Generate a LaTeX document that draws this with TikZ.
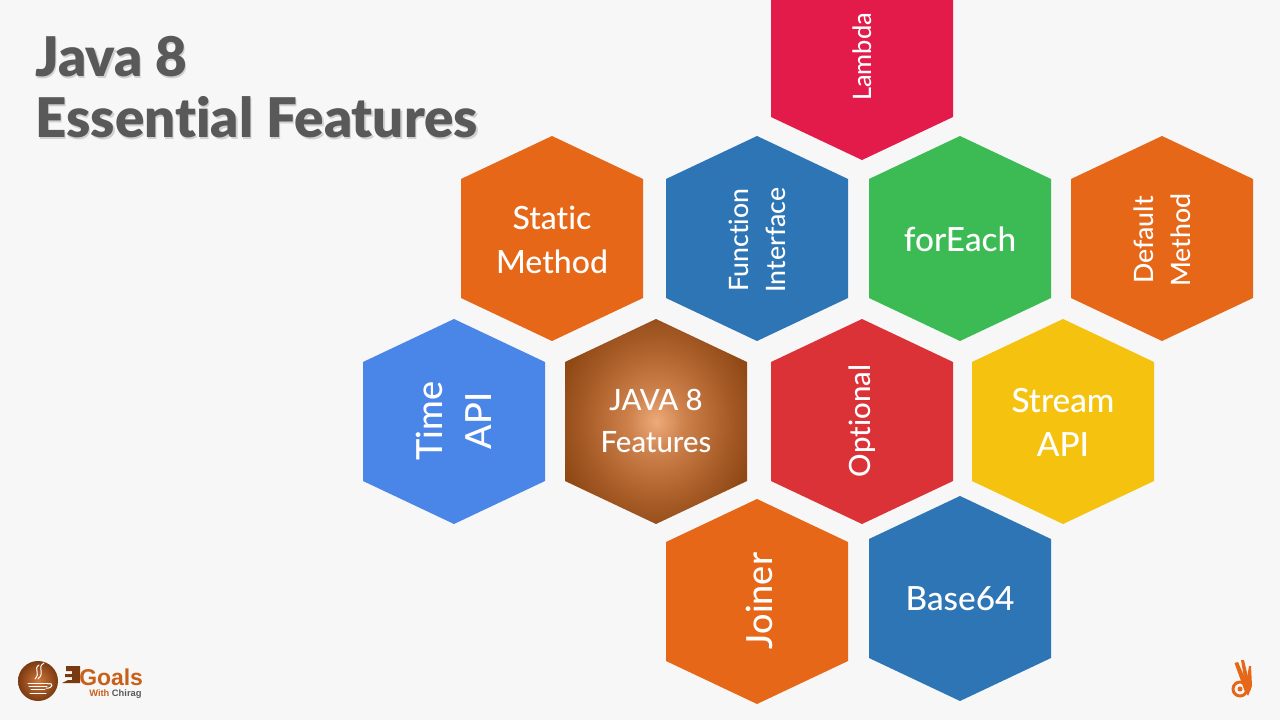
\documentclass[tikz,border=0pt]{standalone}
\usepackage{fontspec}
\setmainfont[Ligatures=NoCommon]{Lato Medium}
\newfontfamily\titlefont[Ligatures=NoCommon]{Lato Black}
\newfontfamily\logofont{Liberation Sans}
\definecolor{bgc}{HTML}{F7F7F7}
\definecolor{pinkred}{HTML}{E31B4B}
\definecolor{orangeh}{HTML}{E56717}
\definecolor{blueh}{HTML}{2E75B6}
\definecolor{greenh}{HTML}{3CBB55}
\definecolor{redh}{HTML}{DB3238}
\definecolor{yellowh}{HTML}{F5C30F}
\definecolor{skyh}{HTML}{4A86E8}
\definecolor{titlec}{HTML}{595959}
\definecolor{logoo}{HTML}{C8601A}
\definecolor{logob}{HTML}{7A3A10}
\pgfdeclareradialshading{javaglow}{\pgfpoint{0bp}{0bp}}{%
 rgb(0bp)=(0.93,0.67,0.48);
 rgb(8bp)=(0.80,0.50,0.29);
 rgb(18bp)=(0.68,0.38,0.17);
 rgb(27bp)=(0.57,0.29,0.09);
 rgb(33bp)=(0.54,0.27,0.06);
 rgb(50bp)=(0.54,0.27,0.06)}
\tikzset{
 x=0.75pt,y=-0.75pt,
 hextext/.style={text=white,align=center,inner sep=0pt,font=\fontsize{24}{33}\selectfont},
 hexwide/.style={hextext,font=\fontsize{25}{33}\selectfont},
 hexsmall/.style={hextext,font=\fontsize{20}{28}\selectfont},
 hexbig/.style={hextext,font=\fontsize{27}{37}\selectfont},
 titletext/.style={anchor=base west,inner sep=0pt,font=\titlefont\fontsize{41}{41}\selectfont},
 logoline/.style={draw=white,line width=0.75pt,line cap=round},
 fingerline/.style={draw=orangeh,line width=2.2pt,line cap=round},
}
\newcommand{\hexshape}[1]{[shift={(#1)}] (0,-102.5) -- (91,-59.5) -- (91,59.5) -- (0,102.5) -- (-91,59.5) -- (-91,-59.5) -- cycle}
\begin{document}
\begin{tikzpicture}
\path[use as bounding box,fill=bgc] (0,0) rectangle (1280,720);
% hexagons
\begin{scope}
\clip (0,0) rectangle (1280,720);
\fill[pinkred] \hexshape{862,57.5};
\end{scope}
\fill[orangeh] \hexshape{552,238.5};
\fill[blueh] \hexshape{757,238.5};
\fill[greenh] \hexshape{960,238.5};
\fill[orangeh] \hexshape{1162,238.5};
\fill[skyh] \hexshape{454,421.5};
\shade[shading=javaglow] \hexshape{656,421.5};
\fill[redh] \hexshape{862,421.5};
\fill[yellowh] \hexshape{1063,421.5};
\fill[orangeh] \hexshape{757,601.5};
\fill[blueh] \hexshape{960,598.5};
% labels
\node[hexsmall,font=\fontsize{19}{28}\selectfont,rotate=90] (lambda) at (862,57) {Lambda};
\node[hextext] (static) at (552,240) {Static\\Method};
\node[hexsmall,rotate=90] (func) at (757,240) {Function\\Interface};
\node[hexwide] (foreach) at (960,239) {forEach};
\node[hexsmall,rotate=90] (default) at (1162,240) {Default\\Method};
\node[hexbig,rotate=90] (time) at (454,421) {Time\\API};
\node[hexsmall,font=\fontsize{22}{31}\selectfont] (java) at (656,421) {JAVA 8\\Features};
\node[hextext,font=\fontsize{22}{30}\selectfont,rotate=90] (optional) at (862,421) {Optional};
\node[hexwide] (stream) at (1063,422) {Stream\\API};
\node[hexbig,rotate=90] (joiner) at (759,601) {Joiner};
\node[hexwide] (base) at (960,599) {Base64};
% title
\node[titletext,text=black!18] (j1s) at (36.5,78.5) {Java 8};
\node[titletext,text=black!18] (e1s) at (36.5,139.5) {Essential Features};
\node[titletext,text=titlec] (j1) at (35,77) {Java 8};
\node[titletext,text=titlec] (e1) at (35,138) {Essential Features};
% left logo
\shade[inner color=logoo!85!white,outer color=logob] (38,681) circle (20);
\draw[logoline] (44,663) .. controls (36,668) and (46,672) .. (38,679);
\draw[logoline] (39,665) .. controls (33,669) and (41,673) .. (35,679);
\draw[logoline] (28,683) -- (48,683) (29,686) -- (47,686) (31,689) -- (45,689);
\draw[logoline] (48,684) .. controls (54,682) and (53,689) .. (46,688);
\draw[logoline] (30,693) -- (46,693);
\fill[logob] (66,666) -- (80,666) -- (80,683) -- (62,683) -- (68,680) -- (72,680) -- (72,677) -- (65,677) -- (65,674) -- (72,674) -- (72,671) -- (66,671) -- cycle;
\node[anchor=base west,inner sep=0pt,text=logoo,font=\logofont\bfseries\fontsize{17.2}{17.2}\selectfont] (goals) at (79,685.5) {Goals};
\node[anchor=base west,inner sep=0pt,text=logoo,font=\logofont\bfseries\fontsize{7}{7}\selectfont] (with) at (89,696.5) {With \textcolor{titlec}{Chirag}};
% right mark
\draw[fingerline] (1240,689) circle (7);
\fill[orangeh] (1240,689) circle (2.5);
\fill[orangeh] (1234.5,663) -- (1238,662) -- (1250,690) -- (1245,692) -- cycle;
\fill[orangeh] (1241,660) -- (1244,660) -- (1251,690) -- (1246,690) -- cycle;
\fill[orangeh] (1249,666) -- (1251,666) -- (1252,686) -- (1248,696) -- (1245,690) -- cycle;
\end{tikzpicture}
\end{document}
